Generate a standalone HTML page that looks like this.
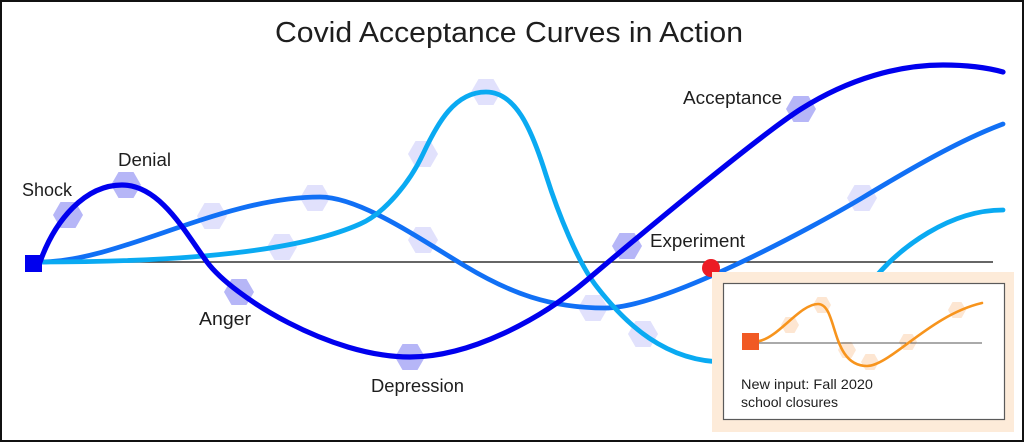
<!DOCTYPE html>
<html>
<head>
<meta charset="utf-8">
<style>
  html, body { margin: 0; padding: 0; background: #fff; }
  svg { display: block; }
  text { font-family: "Liberation Sans", "DejaVu Sans", sans-serif; fill: #1e1e1e; }
</style>
</head>
<body>
<svg width="1024" height="442" viewBox="0 0 1024 442" xmlns="http://www.w3.org/2000/svg">
  <rect x="0" y="0" width="1024" height="442" fill="#ffffff"/>

  <!-- Title -->
  <text x="275" y="42" font-size="29" textLength="468" lengthAdjust="spacingAndGlyphs">Covid Acceptance Curves in Action</text>

  <!-- Baseline -->
  <line x1="40" y1="262" x2="993" y2="262" stroke="#333" stroke-width="1.6"/>

  <!-- Hexagons (darker, on dark-blue curve) -->
  <g fill="#b6b6f7">
    <polygon transform="translate(68,215)" points="-15,0 -7.5,-13 7.5,-13 15,0 7.5,13 -7.5,13"/>
    <polygon transform="translate(126,185)" points="-15,0 -7.5,-13 7.5,-13 15,0 7.5,13 -7.5,13"/>
    <polygon transform="translate(239,292)" points="-15,0 -7.5,-13 7.5,-13 15,0 7.5,13 -7.5,13"/>
    <polygon transform="translate(410,357)" points="-15,0 -7.5,-13 7.5,-13 15,0 7.5,13 -7.5,13"/>
    <polygon transform="translate(627,246)" points="-15,0 -7.5,-13 7.5,-13 15,0 7.5,13 -7.5,13"/>
    <polygon transform="translate(801,109)" points="-15,0 -7.5,-13 7.5,-13 15,0 7.5,13 -7.5,13"/>
  </g>
  <!-- Hexagons (lighter) -->
  <g fill="#e1e1fc">
    <polygon transform="translate(212,216)" points="-15,0 -7.5,-13 7.5,-13 15,0 7.5,13 -7.5,13"/>
    <polygon transform="translate(315,198)" points="-15,0 -7.5,-13 7.5,-13 15,0 7.5,13 -7.5,13"/>
    <polygon transform="translate(282,247)" points="-15,0 -7.5,-13 7.5,-13 15,0 7.5,13 -7.5,13"/>
    <polygon transform="translate(486,92)" points="-15,0 -7.5,-13 7.5,-13 15,0 7.5,13 -7.5,13"/>
    <polygon transform="translate(423,154)" points="-15,0 -7.5,-13 7.5,-13 15,0 7.5,13 -7.5,13"/>
    <polygon transform="translate(423,240)" points="-15,0 -7.5,-13 7.5,-13 15,0 7.5,13 -7.5,13"/>
    <polygon transform="translate(593,308)" points="-15,0 -7.5,-13 7.5,-13 15,0 7.5,13 -7.5,13"/>
    <polygon transform="translate(643,334)" points="-15,0 -7.5,-13 7.5,-13 15,0 7.5,13 -7.5,13"/>
    <polygon transform="translate(862,198)" points="-15,0 -7.5,-13 7.5,-13 15,0 7.5,13 -7.5,13"/>
  </g>

  <!-- Medium blue curve -->
  <path d="M40,262 C120,262 220,197 320,197 C360,197 420,239 465,266 C510,293 550,308 605,308 C665,308 815,226 862,198 C910,169 960,140 1003,124"
        fill="none" stroke="#1170f5" stroke-width="4.8" stroke-linecap="round"/>
  <!-- Light blue curve -->
  <path d="M40,262 C160,262 290,255 360,224 C385,213 410,182 423,154 C438,122 455,92 486,92 C515,92 531,127 546,175 C558,213 578,263 597,287 C625,323 665,362 725,362 C800,362 845,315 873,280 C900,247 950,210 1003,210"
        fill="none" stroke="#0aaaf2" stroke-width="4.8" stroke-linecap="round"/>
  <!-- Dark blue curve -->
  <path d="M40,262 C55,220 85,185 122,185 C160,185 185,232 207,262 C233,297 330,357 410,357 C470,357 540,320 587,280 C640,235 760,135 801,109 C850,78 900,65 943,65 C965,65 985,67 1003,72"
        fill="none" stroke="#0000ee" stroke-width="5.2" stroke-linecap="round"/>

  <!-- Start square -->
  <rect x="25" y="255" width="17" height="17" fill="#0000ee"/>

  <!-- Red dot -->
  <circle cx="711" cy="268" r="9" fill="#ec1c24"/>

  <!-- Labels -->
  <text x="22" y="196" font-size="18" textLength="50" lengthAdjust="spacingAndGlyphs">Shock</text>
  <text x="118" y="166" font-size="18" textLength="53" lengthAdjust="spacingAndGlyphs">Denial</text>
  <text x="199" y="325" font-size="18" textLength="52" lengthAdjust="spacingAndGlyphs">Anger</text>
  <text x="371" y="392" font-size="18" textLength="93" lengthAdjust="spacingAndGlyphs">Depression</text>
  <text x="683" y="104" font-size="18" textLength="99" lengthAdjust="spacingAndGlyphs">Acceptance</text>
  <text x="650" y="247" font-size="18" textLength="95" lengthAdjust="spacingAndGlyphs">Experiment</text>

  <!-- Inset -->
  <rect x="712" y="272" width="302" height="160" fill="#fdebd9"/>
  <rect x="723.5" y="283.5" width="281" height="136" fill="#ffffff" stroke="#5a5a5a" stroke-width="1.2"/>
  <g fill="#fde6d2">
    <polygon transform="translate(790,325)" points="-9,0 -4.5,-8 4.5,-8 9,0 4.5,8 -4.5,8"/>
    <polygon transform="translate(822,305)" points="-9,0 -4.5,-8 4.5,-8 9,0 4.5,8 -4.5,8"/>
    <polygon transform="translate(847,350)" points="-9,0 -4.5,-8 4.5,-8 9,0 4.5,8 -4.5,8"/>
    <polygon transform="translate(870,362)" points="-9,0 -4.5,-8 4.5,-8 9,0 4.5,8 -4.5,8"/>
    <polygon transform="translate(908,342)" points="-9,0 -4.5,-8 4.5,-8 9,0 4.5,8 -4.5,8"/>
    <polygon transform="translate(957,310)" points="-9,0 -4.5,-8 4.5,-8 9,0 4.5,8 -4.5,8"/>
  </g>
  <line x1="759" y1="343" x2="982" y2="343" stroke="#555" stroke-width="1"/>
  <path d="M759,341 C778,338 800,304 818,304 C838,304 830,366 867,366 C890,366 930,315 982,303"
        fill="none" stroke="#f7941d" stroke-width="2.6" stroke-linecap="round"/>
  <rect x="742" y="333" width="17" height="17" fill="#f15a24"/>
  <text x="741" y="389" font-size="14" textLength="132" lengthAdjust="spacingAndGlyphs">New input: Fall 2020</text>
  <text x="741" y="407" font-size="14" textLength="97" lengthAdjust="spacingAndGlyphs">school closures</text>

  <!-- Frame -->
  <rect x="1" y="1" width="1022" height="440" fill="none" stroke="#111" stroke-width="2"/>
</svg>
</body>
</html>
